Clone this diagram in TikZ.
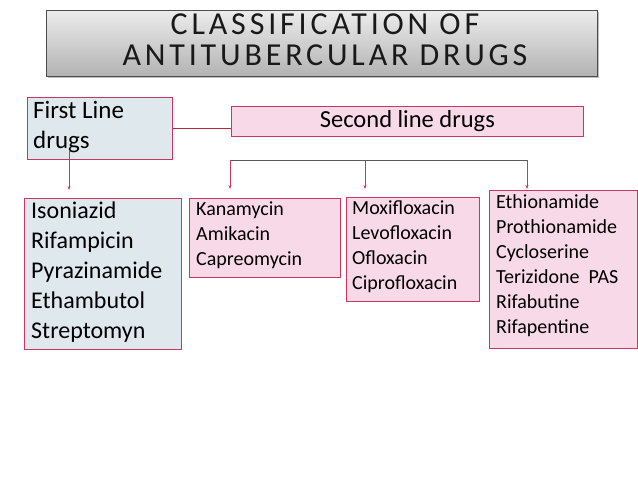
\documentclass[tikz,border=0pt]{standalone}
\usepackage{fontspec}
\setmainfont{Carlito}
\newfontfamily\titlefont[LetterSpace=12]{Carlito}
\usetikzlibrary{shadows,arrows.meta}
\definecolor{bd}{HTML}{C8385E}
\definecolor{pk}{HTML}{F7D9E8}
\definecolor{bl}{HTML}{DFE8EC}
\definecolor{ln}{HTML}{B5273F}
\begin{document}
\begin{tikzpicture}[x=1pt,y=-1pt,
 box/.style={draw=bd,line width=0.8pt,inner sep=0pt},
 lst/.style={anchor=north west,align=left,inner sep=0pt},
 arr/.style={draw=gray!70!black,line width=0.6pt},
 tip/.style={-{Stealth[length=4pt,width=3pt]},draw=bd,line width=0.6pt}]
\useasboundingbox (0,0) rectangle (638,478);
\node[box,draw=gray!60!black,minimum width=551pt,minimum height=66pt,anchor=north west,
 top color=gray!15,bottom color=gray!60,drop shadow={shadow xshift=2pt,shadow yshift=-2pt}] (title) at (46,10) {};
\node[align=center,font=\titlefont\fontsize{32}{31}\selectfont,text=black!90] (tt) at (325,40) {CLASSIFICATION OF\\ANTITUBERCULAR DRUGS};
\node[box,fill=bl,minimum width=145pt,minimum height=62pt,anchor=north west] (first) at (27,97) {};
\node[lst,font=\fontsize{25}{30}\selectfont] (ft) at (33,101) {First Line\\drugs};
\node[box,fill=pk,minimum width=352pt,minimum height=30pt,anchor=north west,font=\fontsize{24.5}{26}\selectfont] (second) at (231,106) {Second line drugs};
\draw[ln,line width=1.2pt] (first.east) -- (second.west |- first.east);
\node[box,fill=bl,minimum width=157pt,minimum height=151pt,anchor=north west] (b1) at (24,198) {};
\node[lst,font=\fontsize{24}{30}\selectfont] (b1t) at (31,202) {Isoniazid\\Rifampicin\\Pyrazinamide\\Ethambutol\\Streptomyn};
\node[box,fill=pk,minimum width=151pt,minimum height=79pt,anchor=north west] (b2) at (189,198) {};
\node[lst,font=\fontsize{20}{25}\selectfont] (b2t) at (196,202) {Kanamycin\\Amikacin\\Capreomycin};
\node[box,fill=pk,minimum width=133pt,minimum height=104pt,anchor=north west] (b3) at (346,197) {};
\node[lst,font=\fontsize{20}{25}\selectfont] (b3t) at (352,201) {Moxifloxacin\\Levofloxacin\\Ofloxacin\\Ciprofloxacin};
\node[box,fill=pk,minimum width=148pt,minimum height=158pt,anchor=north west] (b4) at (489,190) {};
\node[lst,font=\fontsize{20}{25}\selectfont] (b4t) at (496,194) {Ethionamide\\Prothionamide\\Cycloserine\\Terizidone\ \ PAS\\Rifabutine\\Rifapentine};
\coordinate (h1) at (230,160); \coordinate (h2) at (365,160); \coordinate (h3) at (527,160);
\draw[arr] (h1) -- (h3);
\draw[tip] (h1) -- (230,189);
\draw[tip] (h2) -- (365,189);
\draw[tip] (h3) -- (527,189);
\draw[tip] (69,150) -- (69,190);
\end{tikzpicture}
\end{document}
